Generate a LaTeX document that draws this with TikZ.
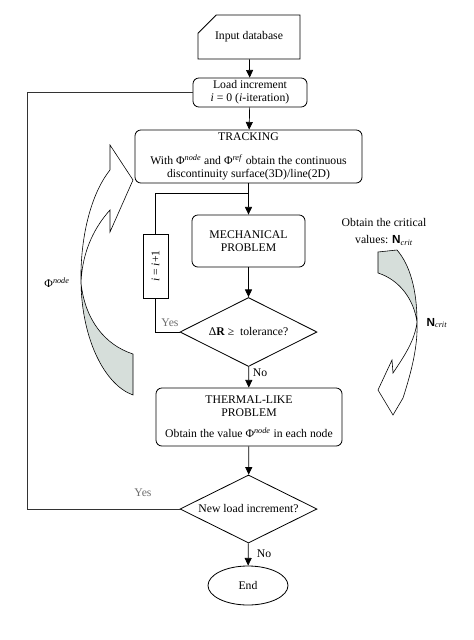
\documentclass[tikz,border=0pt]{standalone}
\usepackage{fontspec}
\setmainfont{Liberation Serif}
\newfontfamily\critfont{Liberation Sans}
\usepackage{xcolor}
\usepackage{tikz}
\usetikzlibrary{arrows.meta,shapes.geometric,shapes.misc}

\definecolor{ribbon}{RGB}{214,222,218}
\definecolor{yesgray}{RGB}{110,110,110}
\newcommand{\ncrit}{{\critfont\bfseries N}\textsubscript{\textit{crit}}}
\newcommand{\phinode}{Φ\textsuperscript{\textit{node}}}

\begin{document}
\begin{tikzpicture}[x=0.03cm,y=-0.03cm,
  font=\fontsize{10}{11}\selectfont,
  box/.style={draw,rounded corners=5pt,align=center,inner sep=1pt,line width=0.7pt},
  decision/.style={draw,diamond,shape aspect=2,inner sep=0pt,line width=0.7pt,minimum width=4.11cm},
  line/.style={line width=0.6pt},
  arr/.style={line width=0.6pt,-{Triangle[length=6.5pt,width=6pt]}},
  lbl/.style={inner sep=0pt}]
\useasboundingbox (0,0) rectangle (474,640);

\node[draw,chamfered rectangle,chamfered rectangle corners=north west,
  chamfered rectangle xsep=0.57cm,chamfered rectangle ysep=0.27cm,
  line width=0.7pt,minimum width=3.06cm,minimum height=1.32cm] (input) at (249,37) {Input database};
\node[box,minimum width=3.42cm,minimum height=0.87cm] (load) at (250,92.5) {Load increment\\\textit{i} = 0 (\textit{i}-iteration)};
\node[box,minimum width=6.81cm,minimum height=1.59cm] (track) at (248.5,156.5) {TRACKING\\[10pt]With \phinode{} and Φ\textsuperscript{\textit{ref}} obtain the continuous\\discontinuity surface(3D)/line(2D)};
\node[box,minimum width=3.39cm,minimum height=1.56cm] (mech) at (248.5,241) {MECHANICAL\\PROBLEM};
\node[decision,minimum height=2.07cm] (dec1) at (248.5,332) {Δ\textbf{R} ≥\enspace tolerance?};
\node[draw,line width=0.7pt,rotate=90,minimum width=1.92cm,minimum height=0.75cm,inner sep=0pt] (iinc) at (155.5,266) {\textit{i} = \textit{i}+1};
\node[box,minimum width=5.58cm,minimum height=1.74cm] (therm) at (249,417) {THERMAL-LIKE\\PROBLEM\\[7pt]Obtain the value \phinode{} in each node};
\node[decision,minimum height=2.04cm] (dec2) at (248.5,509) {New load increment?};
\node[draw,ellipse,line width=0.7pt,minimum width=2.4cm,minimum height=1.17cm] (endn) at (248,585.5) {End};

\coordinate (split) at (248.5,193);
\coordinate (backx) at (27,0);

\draw[arr] (input) -- (load);
\draw[arr] (load) -- (track);
\draw[line] (track.south) -- (split);
\draw[arr] (split) -- (mech);
\draw[line] (split) -| (iinc);
\draw[arr] (mech) -- (dec1);
\draw[line] (dec1.west) -| (iinc);
\draw[arr] (dec1) -- (therm);
\draw[arr] (therm) -- (dec2);
\draw[arr] (dec2) -- (endn);
\draw[line,black!80] (dec2.west) -| (backx |- load.west) -- (load.west);

\node[lbl,text=yesgray] (yes1) at (170,323) {Yes};
\node[lbl] (no1) at (260,373) {No};
\node[lbl,text=yesgray] (yes2) at (143,493) {Yes};
\node[lbl] (no2) at (264,554) {No};

\filldraw[fill=white,line width=0.5pt] (110,145) -- (133,180) -- (110,232) -- (110,210)
  .. controls (92,230) and (82,255) .. (81,283)
  .. controls (80,240) and (90,195) .. (110,170) -- cycle;
\filldraw[fill=ribbon,line width=0.5pt] (81,283) .. controls (82,340) and (105,385) .. (133,395)
  -- (133,354) .. controls (105,345) and (85,320) .. (81,283) -- cycle;
\node[lbl] (phil) at (57,283) {\phinode};

\filldraw[fill=ribbon,line width=0.5pt] (378,252) -- (397,250)
  .. controls (410,265) and (417,290) .. (417,322)
  .. controls (414,300) and (400,280) .. (378,273) -- cycle;
\filldraw[fill=white,line width=0.5pt] (417,322) .. controls (418,345) and (412,370) .. (403,398)
  -- (393,415) -- (378,390) -- (392,360) -- (393,373)
  .. controls (405,355) and (415,340) .. (417,322) -- cycle;
\node[lbl,align=center,font=\fontsize{10}{15}\selectfont] (crit) at (384,232) {Obtain the critical\\values: \ncrit};
\node[lbl] (critr) at (437,323) {\ncrit};
\end{tikzpicture}
\end{document}
